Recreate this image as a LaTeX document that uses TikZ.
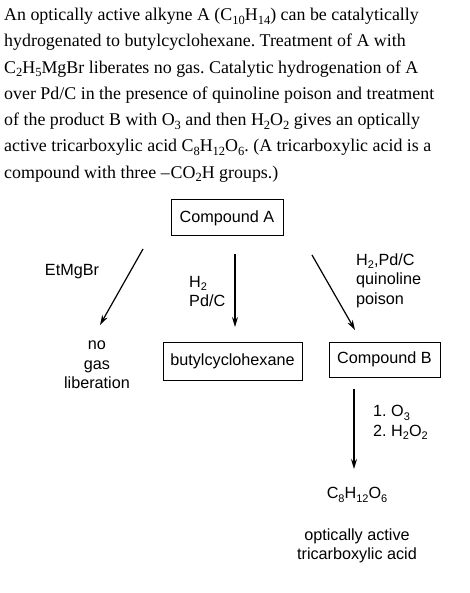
\documentclass[tikz,border=0pt]{standalone}
\usepackage{fontspec}
\setmainfont{Liberation Serif}
\newfontfamily\diagfont{Liberation Sans}
\usetikzlibrary{arrows.meta}
\frenchspacing
\newcommand{\chemsub}[1]{\raisebox{-0.45ex}{\fontsize{12.5}{13}\selectfont #1}}
\newcommand{\dsub}[1]{\raisebox{-0.4ex}{\fontsize{11}{12}\selectfont #1}}
\begin{document}
\begin{tikzpicture}[x=1pt,y=-1pt,
  para/.style={anchor=base west, inner sep=0pt, font=\fontsize{17.9}{20}\selectfont},
  dtext/.style={inner sep=0pt, font=\diagfont\fontsize{16.2}{19.5}\selectfont},
  box/.style={draw, line width=1pt, inner sep=0pt, font=\diagfont\fontsize{16.2}{18}\selectfont},
  arr/.style={line width=1.2pt, -{Stealth[length=10pt,width=6pt]}}]
\useasboundingbox (0,0) rectangle (469,593);
% paragraph
\node[para] (l1) at (4,20.5) {An optically active alkyne A (C\chemsub{10}H\chemsub{14}) can be catalytically};
\node[para] (l2) at (4,46.8) {hydrogenated to butylcyclohexane. Treatment of A with};
\node[para] (l3) at (4,73.1) {C\chemsub{2}H\chemsub{5}MgBr liberates no gas. Catalytic hydrogenation of A};
\node[para] (l4) at (4,99.4) {over Pd/C in the presence of quinoline poison and treatment};
\node[para] (l5) at (4,125.7) {of the product B with O\chemsub{3} and then H\chemsub{2}O\chemsub{2} gives an optically};
\node[para] (l6) at (4,152) {active tricarboxylic acid C\chemsub{8}H\chemsub{12}O\chemsub{6}. (A tricarboxylic acid is a};
\node[para] (l7) at (4,178.3) {compound with three --\kern1pt CO\chemsub{2}H groups.)};
% boxes
\node[box, minimum width=112pt, minimum height=36pt] (A) at (227,218) {Compound A};
\node[box, minimum width=139pt, minimum height=38pt] (bch) at (232.5,361) {butylcyclohexane};
\node[box, minimum width=111pt, minimum height=35pt] (B) at (384.5,359.5) {Compound B};
% arrow ends
\coordinate (a1s) at (143,249); \coordinate (a1e) at (100,325);
\coordinate (a2s) at (235,254); \coordinate (a2e) at (235,327);
\coordinate (a3s) at (312,255); \coordinate (a3e) at (355,330);
\coordinate (a4s) at (354,389); \coordinate (a4e) at (354,469);
\draw[arr] (a1s) -- (a1e);
\draw[arr] (a2s) -- (a2e);
\draw[arr] (a3s) -- (a3e);
\draw[arr] (a4s) -- (a4e);
% labels
\node[dtext] (et) at (72,272) {EtMgBr};
\node[dtext, anchor=west, align=left] (h2) at (189,291.5) {H\dsub{2}\\Pd/C};
\node[dtext, anchor=west, align=left] (q) at (356,280.5) {H\dsub{2},Pd/C\\quinoline\\poison};
\node[dtext, align=center] (ng) at (97,365) {no\\gas\\liberation};
\node[dtext, anchor=west, align=left] (oz) at (373,422.5) {1. O\dsub{3}\\2. H\dsub{2}O\dsub{2}};
\node[dtext] (prod) at (357,495) {C\dsub{8}H\dsub{12}O\dsub{6}};
\node[dtext, align=center] (opt) at (357,546) {optically active\\tricarboxylic acid};
\end{tikzpicture}
\end{document}
